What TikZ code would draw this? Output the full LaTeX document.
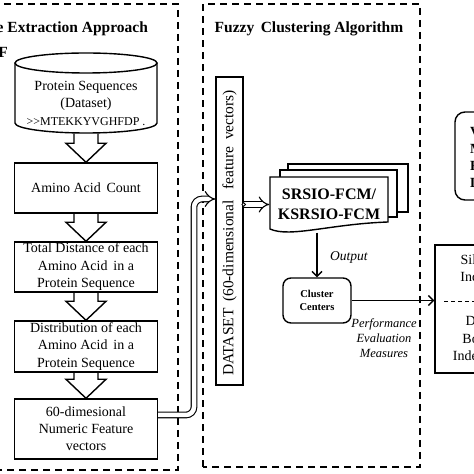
\documentclass[tikz,border=0pt]{standalone}
\usepackage{fontspec}
\setmainfont{Liberation Serif}
\usetikzlibrary{arrows.meta,calc}

% hollow block arrow from the bottom of one node to the top of the next
\newcommand{\hollowarrow}[2]{%
  \draw[blockarrow] let \p1=(#1.south), \p2=(#2.north) in
    (\x1-12pt,\y1) -- (\x1-12pt,\y2+19pt) -- (\x1-20pt,\y2+19pt) -- (\x1,\y2)
    -- (\x1+20pt,\y2+19pt) -- (\x1+12pt,\y2+19pt) -- (\x1+12pt,\y1);}

\begin{document}
\begin{tikzpicture}[x=1pt, y=1pt, line width=1.4pt,
    every node/.style={font=\fontsize{14}{17.5}\selectfont},
    stepbox/.style={draw, minimum width=143pt, align=center, inner sep=1pt},
    blockarrow/.style={line width=1.4pt, line join=miter},
    dashframe/.style={dash pattern=on 7pt off 5pt, line width=1.2pt},
    titlelbl/.style={font=\fontsize{15.5}{18}\selectfont\bfseries},
    dblarrow/.style={double, double distance=4.5pt, line width=1.1pt, -{Implies}},
    plainarrow/.style={line width=1.3pt, -{Straight Barb[length=5pt, width=10pt]}},
    itlbl/.style={font=\fontsize{12.5}{15}\selectfont\itshape, align=center}]
  \useasboundingbox (0,0) rectangle (474,474);
  \clip (0,0) rectangle (474,474);

  % Riquadri tratteggiati
  \draw[dashframe] (-10,4) rectangle (178,470);
  \draw[dashframe] (203,7) rectangle (420,470);
  \node[titlelbl, anchor=east] (lefttitle) at (152,445) {Feature Extraction Approach};
  \node[titlelbl, anchor=east] (leftsub) at (12,422) {F};
  \node[titlelbl] (midtitle) at (309,445) {Fuzzy\, Clustering Algorithm};

  % Database
  \node (db) [minimum width=142pt, minimum height=90pt] at (86,386) {};
  \draw[fill=white] (15,411) -- (15,351) arc[start angle=180, end angle=360, x radius=71, y radius=10] -- (157,411);
  \draw (86,411) ellipse [x radius=71, y radius=10];
  \node[align=center] (dbtext) at (86,371) {Protein Sequences\\(Dataset)\\{\fontsize{12}{15}\selectfont >\kern0pt>\kern0pt MTEKKYVGHFDP .}};

  % Passi di estrazione
  \node[stepbox, minimum height=50pt] (count) at (86,286) {Amino Acid\, Count};
  \node[stepbox, minimum height=50pt] (dist) at (86,207) {Total Distance of each\\Amino Acid\, in a\\Protein Sequence};
  \node[stepbox, minimum height=51pt] (distr) at (86,127.5) {Distribution of each\\Amino Acid\, in a\\Protein Sequence};
  \node[stepbox, minimum height=60pt, font=\fontsize{14}{17}\selectfont] (feat) at (86,45) {60-dimesional\\Numeric Feature\\vectors};

  \hollowarrow{db}{count}
  \hollowarrow{count}{dist}
  \hollowarrow{dist}{distr}
  \hollowarrow{distr}{feat}

  % Dataset verticale
  \node[draw, minimum width=27pt, minimum height=308pt] (dataset) at (229.5,243) {};
  \node[rotate=90, font=\fontsize{15.5}{18}\selectfont] (dstext) at ([yshift=-2pt]dataset) {DATASET\, (60-dimensional\;\, feature\, vectors)};
  \coordinate (bend) at (194,59);
  \draw[dblarrow, rounded corners=8pt] ([yshift=14pt]feat.east) -- (bend) |- ([yshift=32pt]dataset.west);

  % Algoritmo (documenti multipli)
  \draw[fill=white] (288,262) rectangle (408,310);
  \draw[fill=white] (280,257) rectangle (397,304);
  \draw[fill=white] (270,297) -- (388,297) -- (388,252)
    .. controls (330,250) and (290,236) .. (270,245) -- cycle;
  \node[font=\fontsize{16}{20}\selectfont\bfseries, align=center, minimum width=118pt, minimum height=55pt] (algo) at (329,269.5) {SRSIO-FCM/\\KSRSIO-FCM};
  \draw[dblarrow] (dataset.east |- algo.west) -- (algo.west);
  \draw[line width=0.8pt, fill=white] (dataset.east |- algo.west) circle (1.8pt);

  % Centri dei cluster
  \node[draw, rounded corners=8pt, minimum width=68pt, minimum height=45pt, align=center,
        font=\fontsize{10.5}{13}\selectfont\bfseries] (clus) at (317,173.5) {Cluster\\Centers};
  \draw[plainarrow] (algo.south -| clus.north) -- (clus.north);
  \node[itlbl, anchor=west, font=\fontsize{13.5}{16}\selectfont\itshape] (outlbl) at (326,217) {Output};

  % Misure di valutazione
  \node[draw, minimum width=130pt, minimum height=128pt] (indices) at (500,165) {};
  \draw[dashframe, line width=1pt, dash pattern=on 4pt off 3pt] (444,172) -- (indices.east |- 0,172);
  \node[align=center] (silh) at (489,204.5) {Silhouette\\Index (SI)};
  \node[align=center] (dbi) at (485,134) {Davies\\Bouldin\\Index (DB)};
  \draw[plainarrow] (clus.east) -- (indices.west |- clus.east);
  \node[itlbl] (perflbl) at (384,136) {Performance\\Evaluation\\Measures};

  % Riquadro in alto a destra
  \node[draw, rounded corners=10pt, minimum width=105pt, minimum height=88pt] (valid) at (507.5,318) {};
  \node[anchor=west, align=left, font=\fontsize{14}{17}\selectfont\bfseries] (validtext) at (466,317) {Validity\\Measures\\For\\Datasets};
\end{tikzpicture}
\end{document}
